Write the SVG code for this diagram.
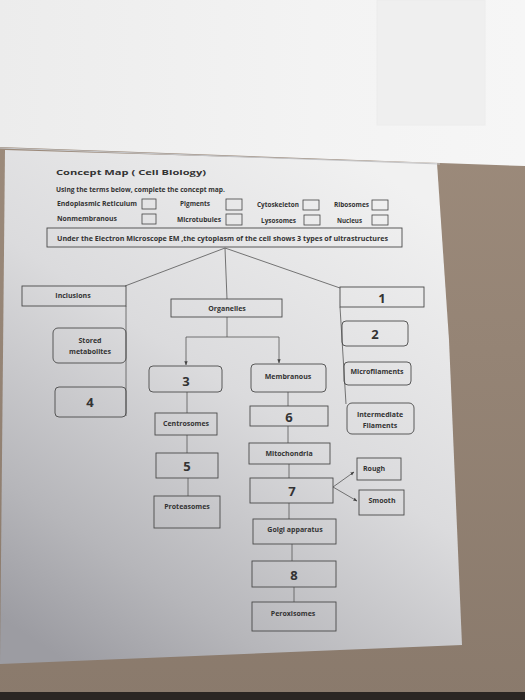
<svg xmlns="http://www.w3.org/2000/svg" width="525" height="700" viewBox="0 0 525 700">
<defs>
<linearGradient id="page" x1="0.75" y1="0" x2="0.15" y2="1">
<stop offset="0" stop-color="#f1f1f1"/>
<stop offset="0.45" stop-color="#dbdbdd"/>
<stop offset="0.8" stop-color="#b6b6ba"/>
<stop offset="1" stop-color="#9c9ca2"/>
</linearGradient>
<linearGradient id="top" x1="0" y1="0" x2="1" y2="0">
<stop offset="0" stop-color="#ececec"/>
<stop offset="0.6" stop-color="#f3f3f3"/>
<stop offset="1" stop-color="#f6f6f6"/>
</linearGradient>
<linearGradient id="carpet" x1="0" y1="0" x2="0" y2="1">
<stop offset="0" stop-color="#a08e7e"/>
<stop offset="1" stop-color="#8a7a6c"/>
</linearGradient>
<marker id="ah" viewBox="0 0 6 6" refX="5.5" refY="3" markerWidth="5" markerHeight="5" orient="auto">
<path d="M0,0.5 L6,3 L0,5.5 Z" fill="#444"/>
</marker>
<style>
.box{fill:none;stroke:#4a4a4a;stroke-width:0.9}
.cb{fill:none;stroke:#444;stroke-width:0.8}
.t{font-family:"Open Sans","Liberation Sans",sans-serif;font-weight:bold;font-size:7px;fill:#333}
.c{text-anchor:middle}
.num{font-size:13px}
.ln{stroke:#555;stroke-width:0.8;fill:none}
</style>
</defs>

<!-- background scene -->
<rect x="0" y="0" width="525" height="700" fill="url(#carpet)"/>
<rect x="0" y="692" width="525" height="8" fill="#2b2623"/>
<polygon points="5,150 437,163 449,340 462,645 0,664" fill="url(#page)"/>
<polygon points="0,0 525,0 525,166 440,163 0,147" fill="url(#top)"/>
<line x1="0" y1="148" x2="440" y2="164" stroke="#c4c4c6" stroke-width="1.2"/>
<rect x="377" y="0" width="108" height="125" fill="#efefef" stroke="#ececec" stroke-width="1"/>

<!-- header -->
<g id="header">
<text class="t" x="56" y="175" font-size="13" textLength="150" lengthAdjust="spacingAndGlyphs">Concept Map ( Cell Biology)</text>
<text class="t" x="56" y="192" font-size="6.5" textLength="169" lengthAdjust="spacingAndGlyphs">Using the terms below, complete the concept map.</text>
</g>

<g id="terms">
<text class="t" x="57" y="206" font-size="6.5" textLength="80" lengthAdjust="spacingAndGlyphs">Endoplasmic Reticulum</text>
<rect class="cb" x="142" y="199" width="14" height="10"/>
<text class="t" x="180" y="206" font-size="6.5" textLength="30" lengthAdjust="spacingAndGlyphs">Pigments</text>
<rect class="cb" x="226" y="199" width="16" height="11"/>
<text class="t" x="257" y="207" font-size="6.5" textLength="42" lengthAdjust="spacingAndGlyphs">Cytoskeleton</text>
<rect class="cb" x="303" y="200" width="16" height="10"/>
<text class="t" x="334" y="207" font-size="6.5" textLength="35" lengthAdjust="spacingAndGlyphs">Ribosomes</text>
<rect class="cb" x="372" y="200" width="16" height="10"/>
<text class="t" x="57" y="221" font-size="6.5" textLength="60" lengthAdjust="spacingAndGlyphs">Nonmembranous</text>
<rect class="cb" x="142" y="214" width="14" height="10"/>
<text class="t" x="177" y="222" font-size="6.5" textLength="44" lengthAdjust="spacingAndGlyphs">Microtubules</text>
<rect class="cb" x="226" y="214" width="16" height="11"/>
<text class="t" x="261" y="223" font-size="6.5" textLength="35" lengthAdjust="spacingAndGlyphs">Lysosomes</text>
<rect class="cb" x="304" y="215" width="16" height="10"/>
<text class="t" x="337" y="223" font-size="6.5" textLength="25" lengthAdjust="spacingAndGlyphs">Nucleus</text>
<rect class="cb" x="372" y="215" width="16" height="10"/>
</g>

<g id="banner">
<rect class="box" x="47" y="228" width="355" height="19"/>
<text class="t" x="57" y="240.5" font-size="7.5" textLength="331" lengthAdjust="spacingAndGlyphs">Under the Electron Microscope EM ,the cytoplasm of the cell shows 3 types of ultrastructures</text>
</g>

<!-- connectors -->
<g id="connectors">
<line class="ln" x1="225" y1="248" x2="125" y2="286"/>
<line class="ln" x1="225" y1="248" x2="227" y2="299"/>
<line class="ln" x1="225" y1="248" x2="340" y2="288"/>
<line class="ln" x1="126" y1="306" x2="126" y2="416"/>
<line class="ln" x1="340" y1="307" x2="346" y2="404"/>
<polyline class="ln" points="227,317 227,337"/>
<polyline class="ln" points="186,337 279,337"/>
<line class="ln" x1="186" y1="337" x2="186" y2="365" marker-end="url(#ah)"/>
<line class="ln" x1="279" y1="337" x2="279" y2="363" marker-end="url(#ah)"/>
<line class="ln" x1="187" y1="392" x2="187" y2="413"/>
<line class="ln" x1="187" y1="435" x2="187" y2="453"/>
<line class="ln" x1="188" y1="478" x2="188" y2="496"/>
<line class="ln" x1="288" y1="392" x2="288" y2="406"/>
<line class="ln" x1="288" y1="426" x2="288" y2="443"/>
<line class="ln" x1="289" y1="464" x2="289" y2="478"/>
<line class="ln" x1="289" y1="503" x2="289" y2="519"/>
<line class="ln" x1="292" y1="544" x2="292" y2="561"/>
<line class="ln" x1="294" y1="587" x2="294" y2="602"/>
<line class="ln" x1="333" y1="487" x2="354" y2="472" marker-end="url(#ah)"/>
<line class="ln" x1="333" y1="487" x2="357" y2="501" marker-end="url(#ah)"/>
</g>

<!-- nodes -->
<g id="inclusions">
<rect class="box" x="22" y="286" width="104" height="20"/>
<text class="t c" x="73" y="297.5">Inclusions</text>
</g>
<g id="organelles">
<rect class="box" x="171" y="299" width="111" height="18"/>
<text class="t c" x="227" y="310.5">Organelles</text>
</g>
<g id="n1">
<rect class="box" x="340" y="287" width="84" height="20"/>
<text class="t c num" x="382" y="303">1</text>
</g>
<g id="n2">
<rect class="box" x="342" y="321" width="66" height="25" rx="4"/>
<text class="t c num" x="375" y="338.5">2</text>
</g>
<g id="stored">
<rect class="box" x="53" y="328" width="73" height="35" rx="5"/>
<text class="t c" x="90" y="342.5">Stored</text>
<text class="t c" x="90" y="353.5">metabolites</text>
</g>
<g id="n3">
<rect class="box" x="149" y="366" width="73" height="26" rx="4"/>
<text class="t c num" x="186" y="385.5">3</text>
</g>
<g id="membranous">
<rect class="box" x="251" y="364" width="75" height="28" rx="4"/>
<text class="t c" x="288" y="378.5">Membranous</text>
</g>
<g id="microfilaments">
<rect class="box" x="344" y="362" width="67" height="23" rx="4"/>
<text class="t c" x="377" y="373.5">Microfilaments</text>
</g>
<g id="n4">
<rect class="box" x="55" y="387" width="71" height="30" rx="4"/>
<text class="t c num" x="90" y="406.5">4</text>
</g>
<g id="intermediate">
<rect class="box" x="347" y="403" width="67" height="31" rx="5"/>
<text class="t c" x="380" y="416.5">Intermediate</text>
<text class="t c" x="380" y="427.5">Filaments</text>
</g>
<g id="centrosomes">
<rect class="box" x="155" y="413" width="62" height="22"/>
<text class="t c" x="186" y="425.5">Centrosomes</text>
</g>
<g id="n6">
<rect class="box" x="250" y="406" width="78" height="20"/>
<text class="t c num" x="289" y="421.5">6</text>
</g>
<g id="mitochondria">
<rect class="box" x="249" y="443" width="81" height="21"/>
<text class="t c" x="289" y="455.5">Mitochondria</text>
</g>
<g id="n5">
<rect class="box" x="156" y="453" width="62" height="25"/>
<text class="t c num" x="187" y="470.5">5</text>
</g>
<g id="rough">
<rect class="box" x="357" y="458" width="44" height="22"/>
<text class="t c" x="374" y="470.5">Rough</text>
</g>
<g id="n7">
<rect class="box" x="250" y="478" width="83" height="25"/>
<text class="t c num" x="292" y="495.5">7</text>
</g>
<g id="smooth">
<rect class="box" x="359" y="490" width="45" height="25"/>
<text class="t c" x="382" y="502.5">Smooth</text>
</g>
<g id="proteasomes">
<rect class="box" x="154" y="496" width="66" height="32"/>
<text class="t c" x="187" y="508.5">Proteasomes</text>
</g>
<g id="golgi">
<rect class="box" x="253" y="519" width="83" height="25"/>
<text class="t c" x="295" y="531.5">Golgi apparatus</text>
</g>
<g id="n8">
<rect class="box" x="252" y="561" width="84" height="26"/>
<text class="t c num" x="294" y="579.5">8</text>
</g>
<g id="peroxisomes">
<rect class="box" x="252" y="602" width="84" height="29"/>
<text class="t c" x="293" y="615.5">Peroxisomes</text>
</g>
</svg>
